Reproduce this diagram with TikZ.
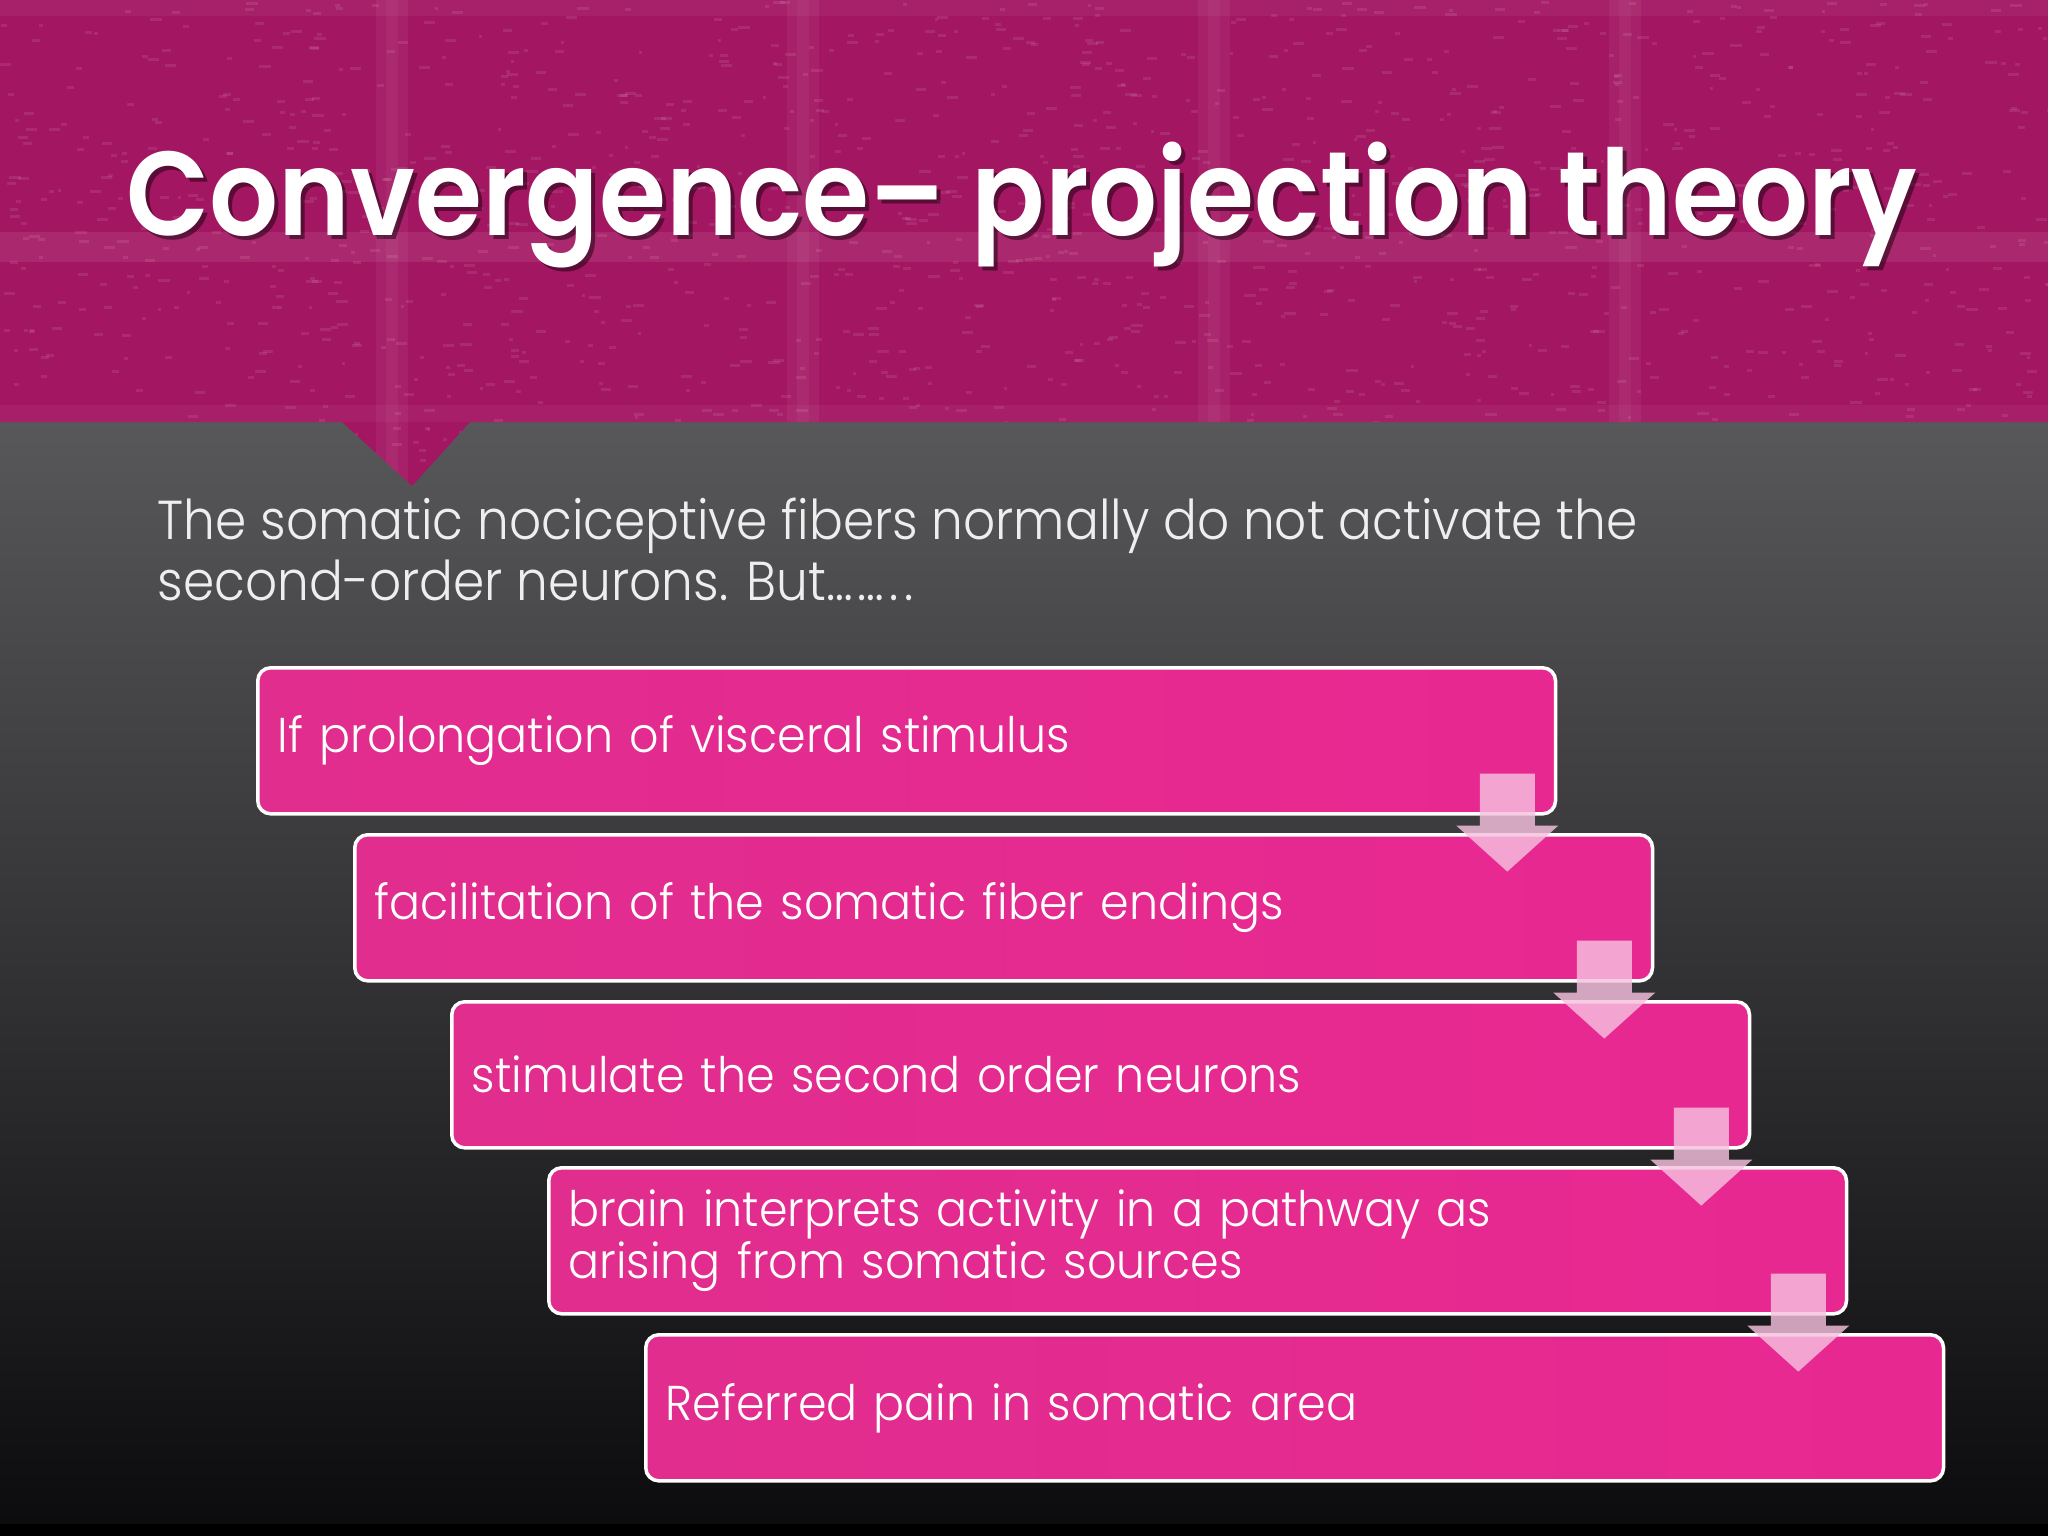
\documentclass[tikz,border=0pt]{standalone}
\usepackage{fontspec}
\setmainfont{Poppins}
\newfontfamily\bodyfont{Poppins Light}[FakeStretch=0.94]
\newfontfamily\introfont{Poppins Light}[FakeStretch=0.915]
\newfontfamily\titlefont{Poppins SemiBold}
\usetikzlibrary{calc}
\definecolor{hdr}{RGB}{163,22,98}
\definecolor{boxpink}{RGB}{225,45,142}
\definecolor{boxpinkR}{RGB}{232,40,145}
\definecolor{bgtop}{RGB}{88,88,90}
\definecolor{bgbot}{RGB}{12,11,14}
\definecolor{arrowpink}{RGB}{246,192,222}
\definecolor{bodygray}{RGB}{238,238,238}
\tikzset{
  stepbox/.style={draw=white, line width=1pt, rounded corners=0.13cm,
    left color=boxpink, right color=boxpinkR,
    anchor=north west, minimum height=1.46cm, text width=12.57cm,
    inner xsep=0.2cm, inner ysep=0pt, align=left, text=white,
    font=\bodyfont\fontsize{13.9pt}{14.8pt}\selectfont},
  flowarrow/.style={fill=arrowpink, fill opacity=0.82, draw=none},
  bodytext/.style={anchor=base west, inner sep=0pt, text=bodygray,
    font=\introfont\fontsize{15.6pt}{17.4pt}\selectfont},
  titletext/.style={anchor=base, inner sep=0pt,
    font=\titlefont\fontsize{33.9pt}{36pt}\selectfont},
}
\newcommand\flowdown[1]{%
  \begin{scope}[shift={($(#1.south east)+(-50,0)$)}]
    \path[flowarrow] (-27.5,-42) -- (27.5,-42) -- (27.5,10) -- (51,10) -- (0,56) -- (-51,10) -- (-27.5,10) -- cycle;
  \end{scope}}
\begin{document}
\begin{tikzpicture}[x=0.01cm,y=-0.01cm]
\useasboundingbox (0,0) rectangle (2048,1536);
% background
\shade[top color=bgtop, bottom color=bgbot] (0,420) rectangle (2048,1524);
\fill[black] (0,1524) rectangle (2048,1536);
% header with notch
\fill[hdr] (0,0) -- (2048,0) -- (2048,422) -- (470,422) -- (412,486) -- (342,422) -- (0,422) -- cycle;
\begin{scope}
  \clip (0,0) -- (2048,0) -- (2048,422) -- (470,422) -- (412,486) -- (342,422) -- (0,422) -- cycle;
  \pgfmathsetseed{7}
  \foreach \i in {1,...,1400} {
    \pgfmathsetmacro\rx{rnd*2048}
    \pgfmathsetmacro\ry{rnd*486}
    \pgfmathsetmacro\rw{3+rnd*9}
    \fill[white, opacity=0.09] (\rx,\ry) rectangle ++(\rw,3);
  }
  \foreach \xx in {392,803,1214,1625} {
    \fill[white, opacity=0.05] (\xx-16,0) rectangle (\xx+16,486);
    \fill[white, opacity=0.04] (\xx-6,0) rectangle (\xx+6,486);
  }
  \fill[white, opacity=0.08] (0,232) rectangle (2048,262);
  \fill[white, opacity=0.05] (0,0) rectangle (2048,16);
  \fill[white, opacity=0.04] (0,405) rectangle (2048,422);
\end{scope}
% title
\node[titletext, text=black, opacity=0.45] at (1026,239) {\resizebox{17.9cm}{\height}{Convergence– projection theory}};
\node (title) [titletext, text=white] at (1022,235) {\resizebox{17.9cm}{\height}{Convergence– projection theory}};
% intro text
\node (t1) [bodytext] at (157,539) {The somatic nociceptive fibers normally do not activate the};
\node (t2) [bodytext] at (157,600) {second-order neurons. But{\addfontfeature{LetterSpace=9.5}……..}};
% boxes
\node (b1) [stepbox] at (256,666) {If prolongation of visceral stimulus};
\node (b2) [stepbox] at (353,833) {facilitation of the somatic fiber endings};
\node (b3) [stepbox] at (450,1000) {stimulate the second order neurons};
\node (b4) [stepbox] at (547,1166) {brain interprets activity in a pathway as\\arising from somatic sources};
\node (b5) [stepbox] at (644,1333) {Referred pain in somatic area};
% arrows
\flowdown{b1}
\flowdown{b2}
\flowdown{b3}
\flowdown{b4}
\end{tikzpicture}
\end{document}
